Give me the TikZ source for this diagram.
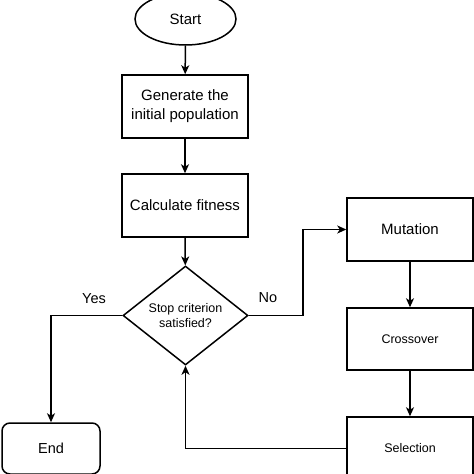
\documentclass[tikz,border=0pt]{standalone}
\usepackage{fontspec}
\setmainfont{Liberation Sans}
\usetikzlibrary{shapes.geometric,arrows.meta}

\begin{document}
\begin{tikzpicture}[x=1pt,y=-1pt,>={Stealth[length=9pt,width=8pt,inset=2.5pt]},
    line width=1.5pt,
    flowbox/.style={draw,rectangle,minimum width=126pt,minimum height=63pt,inner sep=0pt,
      align=center,font=\fontsize{15}{19}\selectfont},
    smallbox/.style={flowbox,font=\fontsize{12.5}{15}\selectfont},
    lab/.style={font=\fontsize{14.5}{17}\selectfont}]
  \useasboundingbox (0,0) rectangle (474,474);
  \clip (0,0) rectangle (474,474);
  \fill[white] (0,0) rectangle (474,474);
  % main column
  \node[draw,ellipse,minimum width=101pt,minimum height=52pt,inner sep=0pt,
    font=\fontsize{15}{19}\selectfont] (start) at (185.5,19) {Start};
  \node[flowbox] (gen) at (185,106.5) {Generate the\\initial population};
  \node[flowbox] (fit) at (185,205.5) {Calculate fitness};
  \node[draw,diamond,minimum width=125pt,minimum height=99pt,inner sep=0pt,
    align=center,font=\fontsize{12.5}{14.5}\selectfont] (stop) at (185.5,315.5)
    {Stop criterion\\satisfied?};
  \node[draw,rectangle,rounded corners=8pt,minimum width=98pt,minimum height=51pt,
    font=\fontsize{14.5}{17}\selectfont] (end) at (51,448.5) {End};
  % loop column
  \node[flowbox] (mut) at (410,229.5) {Mutation};
  \node[smallbox,minimum height=62pt] (cross) at (410,339) {Crossover};
  \node[smallbox] (sel) at (410,448.5) {Selection};
  \coordinate (nobend) at (303,315.5);
  % connectors
  \draw[->] (start) -- (gen);
  \draw[->] (gen) -- (fit);
  \draw[->] (fit) -- (stop);
  \draw[->] (stop.west) -| (end.north);
  \draw[->] (stop.east) -- (nobend) |- (mut.west);
  \draw[->] (mut) -- (cross);
  \draw[->] (cross) -- (sel);
  \draw[->] (sel.west) -| (stop.south);
  \node[lab] (yes) at (94,299) {Yes};
  \node[lab] (no) at (268,298) {No};
\end{tikzpicture}
\end{document}
